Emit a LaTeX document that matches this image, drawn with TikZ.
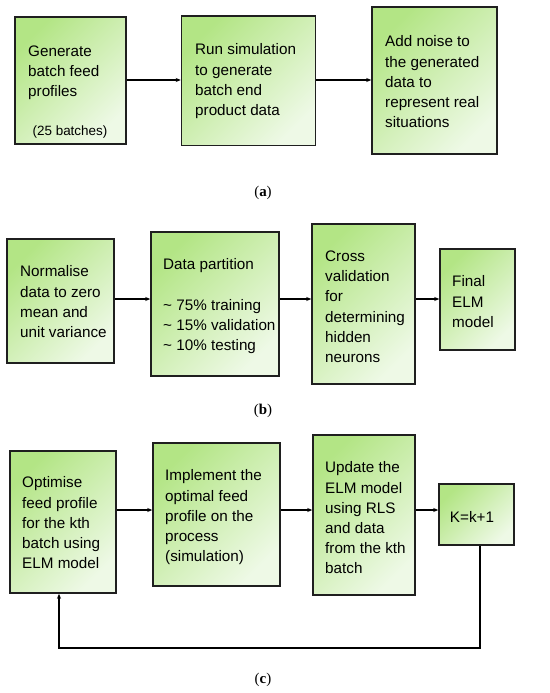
\documentclass[tikz,border=0pt]{standalone}
\usepackage{fontspec}
\setmainfont{Liberation Sans}
\newfontfamily\capfont{Liberation Serif}
\usetikzlibrary{arrows.meta}
\definecolor{gA}{HTML}{B3E585}
\definecolor{gB}{HTML}{EEF9E6}
\tikzset{
  box/.style={draw=black!88, line width=1.5bp, shading=axis, top color=gA, bottom color=gB, shading angle=45, inner sep=0pt},
  txt/.style={anchor=north west, inner sep=0pt, align=left, font=\fontsize{15.3}{20.3}\selectfont},
  arr/.style={line width=1.2bp, -{Stealth[length=5bp,width=4bp]}},
  captxt/.style={font=\capfont\fontsize{15}{17}\selectfont}
}
\begin{document}
\begin{tikzpicture}[x=1bp,y=-1bp]
\useasboundingbox (0,0) rectangle (550,693);
\fill[white] (0,0) rectangle (550,693);
% (a)
\node[box, minimum width=111bp, minimum height=127bp] (a1) at (70.5,80.5) {};
\node[box, minimum width=134bp, minimum height=129.5bp] (a2) at (248.5,80.75) {};
\node[box, minimum width=125bp, minimum height=147bp] (a3) at (434.5,80.5) {};
\node[txt] (ta1) at (28,45.6) {Generate\\batch feed\\profiles};
\node[font=\fontsize{13.5}{16}\selectfont, inner sep=0pt] (ta1b) at (70,132) {(25 batches)};
\node[txt] (ta2) at (195,43.6) {Run simulation\\to generate\\batch end\\product data};
\node[txt] (ta3) at (385,35.6) {Add noise to\\the generated\\data to\\represent real\\situations};
\coordinate (ya) at (0,80);
\draw[arr] (a1.east |- ya) -- (a2.west |- ya);
\draw[arr] (a2.east |- ya) -- (a3.west |- ya);
\node[captxt] (capa) at (263,193) {(\textbf{a})};
% (b)
\node[box, minimum width=107bp, minimum height=124bp] (b1) at (60.5,301) {};
\node[box, minimum width=128bp, minimum height=144bp] (b2) at (215,304) {};
\node[box, minimum width=103bp, minimum height=160bp] (b3) at (363.5,304) {};
\node[box, minimum width=75bp, minimum height=101bp] (b4) at (477.5,299.5) {};
\node[txt] (tb1) at (20,265.6) {Normalise\\data to zero\\mean and\\unit variance};
\node[txt] (tb2) at (163,258.6) {Data partition\\\mbox{}\\\textasciitilde{} 75\% training\\\textasciitilde{} 15\% validation\\\textasciitilde{} 10\% testing};
\node[txt] (tb3) at (325,250.6) {Cross\\validation\\for\\determining\\hidden\\neurons};
\node[txt] (tb4) at (452,275.6) {Final\\ELM\\model};
\coordinate (yb) at (0,299);
\draw[arr] (b1.east |- yb) -- (b2.west |- yb);
\draw[arr] (b2.east |- yb) -- (b3.west |- yb);
\draw[arr] (b3.east |- yb) -- (b4.west |- yb);
\node[captxt] (capb) at (263,411) {(\textbf{b})};
% (c)
\node[box, minimum width=106bp, minimum height=142bp] (c1) at (63,522) {};
\node[box, minimum width=127bp, minimum height=143bp] (c2) at (216.5,514.5) {};
\node[box, minimum width=102bp, minimum height=160bp] (c3) at (364,515) {};
\node[box, minimum width=75bp, minimum height=61bp] (c4) at (476.5,514.5) {};
\node[txt] (tc1) at (22,476.6) {Optimise\\feed profile\\for the kth\\batch using\\ELM model};
\node[txt] (tc2) at (165,469.6) {Implement the\\optimal feed\\profile on the\\process\\(simulation)};
\node[txt] (tc3) at (325,461.6) {Update the\\ELM model\\using RLS\\and data\\from the kth\\batch};
\node[font=\fontsize{15.3}{20.3}\selectfont, inner sep=0pt] (tc4) at (472,517) {K=k+1};
\coordinate (yc) at (0,510);
\draw[arr] (c1.east |- yc) -- (c2.west |- yc);
\draw[arr] (c2.east |- yc) -- (c3.west |- yc);
\draw[arr] (c3.east |- yc) -- (c4.west |- yc);
\coordinate (fbR) at (480,648);
\coordinate (fbL) at (59,648);
\draw[arr] (c4.south -| fbR) -- (fbR) -- (fbL) -- (c1.south -| fbL);
\node[captxt] (capc) at (263,680) {(\textbf{c})};
\end{tikzpicture}
\end{document}
